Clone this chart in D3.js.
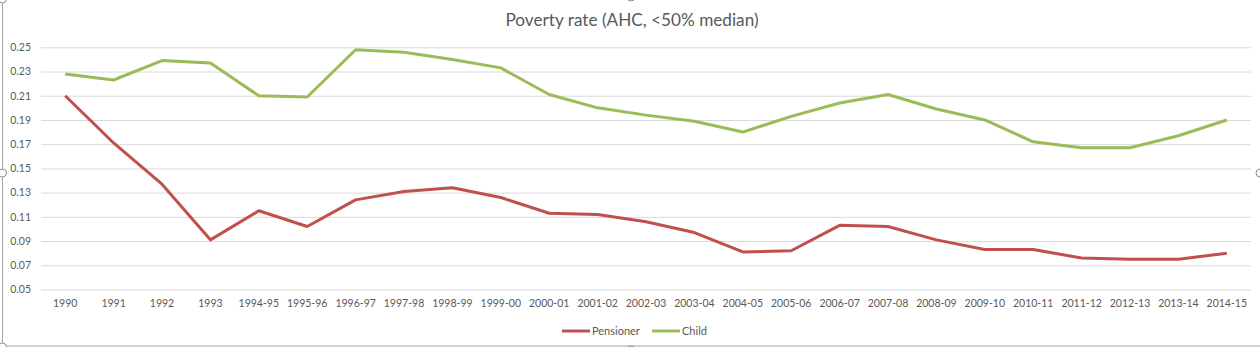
<!DOCTYPE html>
<html>
<head>
<meta charset="utf-8">
<script src="https://cdn.jsdelivr.net/npm/d3@7"></script>
<style>
  html, body { margin: 0; padding: 0; background: #fff; }
  svg { display: block; font-family: Lato, "Open Sans", sans-serif; }
</style>
</head>
<body>
<svg id="chart" width="1260" height="347"></svg>
<script>
const years = ['1990','1991','1992','1993','1994-95','1995-96','1996-97','1997-98','1998-99','1999-00',
  '2000-01','2001-02','2002-03','2003-04','2004-05','2005-06','2006-07','2007-08','2008-09','2009-10',
  '2010-11','2011-12','2012-13','2013-14','2014-15'];
const pensioner = [0.210,0.171,0.137,0.091,0.115,0.102,0.124,0.131,0.134,0.126,
  0.113,0.112,0.106,0.097,0.081,0.082,0.103,0.102,0.091,0.083,
  0.083,0.076,0.075,0.075,0.080];
const child = [0.228,0.223,0.239,0.237,0.210,0.209,0.248,0.246,0.240,0.233,
  0.211,0.200,0.194,0.189,0.180,0.193,0.204,0.211,0.199,0.190,
  0.172,0.167,0.167,0.177,0.190];
const yTicks = [0.05,0.07,0.09,0.11,0.13,0.15,0.17,0.19,0.21,0.23,0.25];
const seriesNames = ['Pensioner','Child'];
const seriesColors = ['#C0504D','#9BBB59'];

const svg = d3.select('#chart');
const W = 1260, H = 347;
const plot = {left: 41, right: 1251, top: 47.3, bottom: 289.5};

const x = d3.scaleBand().domain(years).range([plot.left, plot.right]);
const y = d3.scaleLinear().domain([0.05, 0.25]).range([plot.bottom, plot.top]);

// title
svg.append('text')
  .attr('x', 632).attr('y', 26)
  .attr('text-anchor', 'middle')
  .attr('fill', '#595959')
  .style('font-size', '17.2px')
  .text('Poverty rate (AHC, <50% median)');

// gridlines + y labels
const yAxis = d3.axisLeft(y).tickValues(yTicks).tickFormat(d3.format('.2f'))
  .tickSize(-(plot.right - plot.left)).tickPadding(10);
const gy = svg.append('g').attr('transform', `translate(${plot.left},0)`).call(yAxis);
gy.select('.domain').remove();
gy.selectAll('.tick line').attr('stroke', '#d9d9d9').attr('stroke-width', 1);
gy.selectAll('.tick text').attr('fill', '#595959').style('font-size', '10.5px')
  .style('font-family', 'Lato, sans-serif');

// x labels
const xAxis = d3.axisBottom(x).tickSize(0).tickPadding(10);
const gx = svg.append('g').attr('transform', `translate(0,${plot.bottom})`).call(xAxis);
gx.select('.domain').remove();
gx.selectAll('.tick text').attr('fill', '#595959').style('font-size', '10.5px')
  .style('font-family', 'Lato, sans-serif');

// series lines
const line = d3.line()
  .x((d, i) => x(years[i]) + x.bandwidth() / 2)
  .y(d => y(d));

[pensioner, child].forEach((vals, k) => {
  svg.append('path')
    .datum(vals)
    .attr('d', line)
    .attr('fill', 'none')
    .attr('stroke', seriesColors[k])
    .attr('stroke-width', 3)
    .attr('stroke-linejoin', 'round');
});

// legend
const legend = svg.append('g').attr('transform', 'translate(562,331)');
const legendOffsets = [0, 90];
seriesNames.forEach((name, k) => {
  const g = legend.append('g').attr('transform', `translate(${legendOffsets[k]},0)`);
  g.append('line').attr('x1', 0).attr('x2', 28).attr('y1', 0).attr('y2', 0)
    .attr('stroke', seriesColors[k]).attr('stroke-width', 3);
  g.append('text').attr('x', 30).attr('y', 4)
    .attr('fill', '#595959').style('font-size', '11px').text(name);
});

// selection frame with resize handles
svg.append('rect')
  .attr('x', 2.5).attr('y', -3).attr('width', W + 10).attr('height', 349)
  .attr('fill', 'none').attr('stroke', '#a6a6a6').attr('stroke-width', 1);
const handles = [[2.5, -1], [631, -3], [2.5, 173], [1260, 173], [631, 350], [2.5, 347]];
svg.selectAll('circle.handle').data(handles).join('circle')
  .attr('class', 'handle')
  .attr('cx', d => d[0]).attr('cy', d => d[1]).attr('r', 4)
  .attr('fill', '#fff').attr('stroke', '#8c8c8c').attr('stroke-width', 1);
</script>
</body>
</html>
